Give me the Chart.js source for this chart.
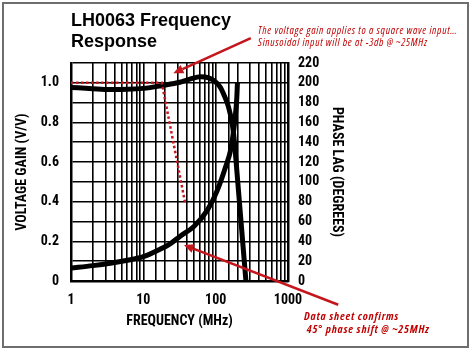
<!DOCTYPE html>
<html>
<head>
<meta charset="utf-8">
<script src="https://cdn.jsdelivr.net/npm/chart.js@4.4.1/dist/chart.umd.min.js"></script>
<style>
  html, body { margin: 0; padding: 0; background: #fff; }
  #wrap { position: relative; width: 474px; height: 353px; overflow: hidden; }
  #chart { position: absolute; left: 0; top: 0; }
  #frame { position: absolute; left: 2px; top: 2px; width: 467px; height: 346px;
           box-sizing: border-box; border: 2px solid #6e6e6e; pointer-events: none; }
  .title { position: absolute; left: 71px; top: 9.7px; font: bold 18px/21.6px "Liberation Sans", Arial, sans-serif; color: #000; }
  .note { position: absolute; color: #c00000; font-family: "Open Sans", sans-serif; font-stretch: condensed; font-style: italic; white-space: pre; }
  .note.top { left: 258px; top: 24px; font-size: 10.6px; line-height: 12px; letter-spacing: 0.7px; }
  .note.bottom { left: 304px; top: 308.5px; font-size: 11.3px; line-height: 13px; font-weight: bold; letter-spacing: 0.8px; }
</style>
</head>
<body>
<div id="wrap">
  <canvas id="chart" width="474" height="353"></canvas>
  <div class="title">LH0063 Frequency<br>Response</div>
  <div class="note top">The voltage gain applies to a square wave input…
Sinusoidal input will be at -3db @ ~25MHz</div>
  <div class="note bottom">Data sheet confirms
 45° phase shift @ ~25MHz</div>
  <div id="frame"></div>
</div>
<script>
// values (frequency in MHz)
const gainFreq = [1, 2, 3.5, 6, 10, 17, 25, 32, 45, 62, 80, 95, 115, 130, 150, 168, 176, 186, 202, 230, 262];
const gainValues = [0.977, 0.97, 0.966, 0.967, 0.972, 0.984, 0.995, 1.003, 1.02, 1.03, 1.025, 1.01, 0.98, 0.94, 0.88, 0.8, 0.75, 0.66, 0.5, 0.25, 0];

const phaseFreq = [1, 2, 3.5, 6, 10, 17, 24, 32, 50, 76, 106, 137, 162, 175, 188, 196, 200];
const phaseValues = [13, 15.5, 18, 21, 24.5, 32, 38, 45, 55, 71, 92, 115, 133, 149, 168, 185, 200];

// red dotted "square wave" sketch
const sketchFreq = [1, 18, 38];
const sketchGain = [1.0, 1.0, 0.39];

const freqLabels = [1, 10, 100, 1000];

// annotation arrows, [fromFreq, fromGain, toFreq, toGain]
const arrows = [
  [306, 1.225, 26, 1.048],
  [4950, -0.12, 36.4, 0.182],
];

const FONT = "'Roboto Condensed', 'Liberation Sans', Arial, sans-serif";
const RED = "#c4161c";

function toPoints(xs, ys) {
  return xs.map((x, i) => ({ x, y: ys[i] }));
}

const arrowPlugin = {
  id: "arrows",
  afterDatasetsDraw(chart) {
    const { ctx, scales } = chart;
    const xs = scales.x, ys = scales.y;
    ctx.save();
    ctx.strokeStyle = RED;
    ctx.fillStyle = RED;
    ctx.lineWidth = 2.5;
    arrows.forEach(a => {
      const x1 = xs.getPixelForValue(a[0]), y1 = ys.getPixelForValue(a[1]);
      const x2 = xs.getPixelForValue(a[2]), y2 = ys.getPixelForValue(a[3]);
      const ang = Math.atan2(y2 - y1, x2 - x1);
      const len = 10, half = 4.5;
      const bx = x2 - Math.cos(ang) * len, by = y2 - Math.sin(ang) * len;
      ctx.beginPath();
      ctx.moveTo(x1, y1);
      ctx.lineTo(bx, by);
      ctx.stroke();
      ctx.beginPath();
      ctx.moveTo(x2, y2);
      ctx.lineTo(bx + Math.sin(ang) * half, by - Math.cos(ang) * half);
      ctx.lineTo(bx - Math.sin(ang) * half, by + Math.cos(ang) * half);
      ctx.closePath();
      ctx.fill();
    });
    ctx.restore();
  },
};

new Chart(document.getElementById("chart"), {
  type: "line",
  data: {
    datasets: [
      {
        label: "Square wave gain",
        data: toPoints(sketchFreq, sketchGain),
        yAxisID: "y",
        borderColor: RED,
        borderWidth: 2.5,
        borderDash: [2.5, 2.5],
        pointRadius: 0,
        tension: 0,
      },
      {
        label: "Voltage gain",
        data: toPoints(gainFreq, gainValues),
        yAxisID: "y",
        borderColor: "#000",
        borderWidth: 5,
        pointRadius: 0,
        cubicInterpolationMode: "monotone",
      },
      {
        label: "Phase lag",
        data: toPoints(phaseFreq, phaseValues),
        yAxisID: "y1",
        borderColor: "#000",
        borderWidth: 5,
        pointRadius: 0,
        cubicInterpolationMode: "monotone",
      },
    ],
  },
  options: {
    responsive: false,
    animation: false,
    devicePixelRatio: 1,
    layout: { padding: { left: 10, right: 125.6, top: 63, bottom: 19.1 } },
    plugins: { legend: { display: false }, tooltip: { enabled: false } },
    scales: {
      x: {
        type: "logarithmic",
        position: "bottom",
        min: 1,
        max: 1000,
        grid: { color: "#000", lineWidth: 1.6, drawTicks: false },
        border: { color: "#000", width: 2.5 },
        ticks: {
          autoSkip: false,
          maxRotation: 0,
          padding: 11,
          color: "#000",
          font: { family: FONT, size: 14, weight: "bold" },
          callback: v => (freqLabels.includes(v) ? String(v) : ""),
        },
        title: {
          display: true,
          text: "FREQUENCY (MHz)",
          color: "#000",
          font: { family: FONT, size: 14, weight: "bold" },
          padding: { top: 0, bottom: 4 },
        },
        afterFit: s => { s.height = 52.9; },
      },
      y: {
        position: "left",
        min: 0,
        max: 1.1,
        grid: { color: "#000", lineWidth: 1.6, drawTicks: false },
        border: { color: "#000", width: 2.5 },
        ticks: {
          stepSize: 0.1,
          padding: 12,
          color: "#000",
          font: { family: FONT, size: 14, weight: "bold" },
          callback: v => {
            const t = Math.round(v * 10);
            if (t === 0) return "0";
            if (t % 2 !== 0 || t > 10) return "";
            return (t / 10).toFixed(1);
          },
        },
        title: {
          display: true,
          text: "VOLTAGE GAIN (V/V)",
          color: "#000",
          font: { family: FONT, size: 14, weight: "bold" },
          padding: { top: 4.1, bottom: 0 },
        },
        afterFit: s => { s.width = 61; },
      },
      y1: {
        position: "right",
        min: 0,
        max: 220,
        grid: { drawOnChartArea: false, drawTicks: false },
        border: { color: "#000", width: 2.5 },
        ticks: {
          stepSize: 20,
          padding: 10,
          color: "#000",
          font: { family: FONT, size: 14, weight: "bold" },
        },
        title: {
          display: true,
          text: "PHASE LAG (DEGREES)",
          color: "#000",
          font: { family: FONT, size: 14, weight: "bold" },
          padding: { top: 4, bottom: 0 },
        },
        afterFit: s => { s.width = 60.4; },
      },
    },
  },
  plugins: [arrowPlugin],
});
</script>
</body>
</html>
